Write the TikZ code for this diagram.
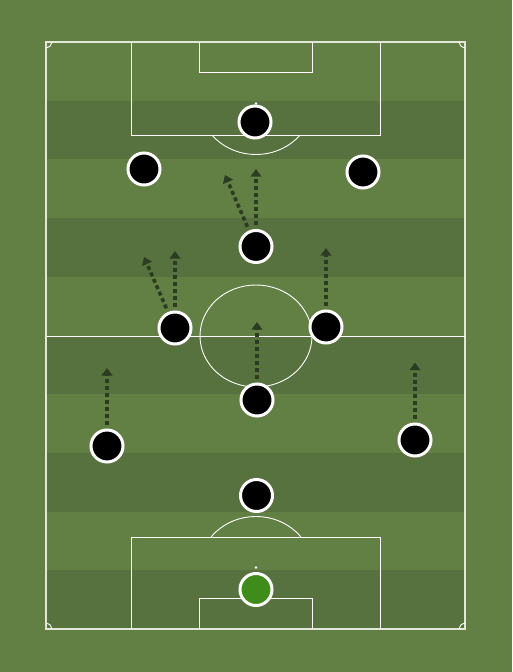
\documentclass[tikz,border=0pt]{standalone}
\usetikzlibrary{arrows.meta}
\definecolor{grassL}{RGB}{99,128,68}
\definecolor{grassD}{RGB}{88,114,63}
\definecolor{runc}{RGB}{44,60,32}
\definecolor{gkc}{RGB}{62,140,26}
\definecolor{linec}{RGB}{225,232,218}
\tikzset{
  pl/.style={circle,draw=white,line width=3pt,fill=black,minimum size=32pt,inner sep=0pt},
  gk/.style={pl,fill=gkc},
  run/.style={draw=runc,line width=3.6pt,dash pattern=on 4pt off 3pt,shorten <=4pt,
    -{Triangle[width=10.5pt,length=7.5pt]}},
  mark1/.style={draw=white,line width=0.9pt},
  outer/.style={draw=linec,line width=1.2pt}
}
\begin{document}
\begin{tikzpicture}[x=1pt,y=-1pt]
\useasboundingbox (0,0) rectangle (512,672);
\fill[grassL] (0,0) rectangle (512,672);
% stripes
\foreach \i in {1,3,5,7,9}{
  \fill[grassD] (46,{42+\i*58.7}) rectangle (465,{42+(\i+1)*58.7});
}
% outer boundary and halfway line
\draw[outer] (46,42) rectangle (465,629);
\draw[mark1] (46,336) -- (465,336);
\draw[mark1] (256,336) ellipse (56 and 51);
\fill[white] (256,336) circle (1.3);
% top penalty area
\draw[mark1] (131.5,42) -- (131.5,135) -- (380.5,135) -- (380.5,42);
\draw[mark1] (199.5,42) -- (199.5,72.7) -- (312.5,72.7) -- (312.5,42);
\fill[white] (256,103.5) circle (1.3);
\begin{scope}
  \clip (0,135.5) rectangle (512,200);
  \draw[mark1] (256,103.5) ellipse (56 and 51);
\end{scope}
% bottom penalty area
\draw[mark1] (131.5,629) -- (131.5,537) -- (380.5,537) -- (380.5,629);
\draw[mark1] (199.5,629) -- (199.5,598.3) -- (312.5,598.3) -- (312.5,629);
\fill[white] (256,567.5) circle (1.3);
\begin{scope}
  \clip (0,470) rectangle (512,536.5);
  \draw[mark1] (256,567.5) ellipse (56 and 51);
\end{scope}
% corner arcs
\draw[mark1] (52,42) arc[start angle=0,end angle=90,x radius=6,y radius=5.6];
\draw[mark1] (459,42) arc[start angle=180,end angle=90,x radius=6,y radius=5.6];
\draw[mark1] (52,629) arc[start angle=0,end angle=-90,x radius=6,y radius=5.6];
\draw[mark1] (459,629) arc[start angle=180,end angle=270,x radius=6,y radius=5.6];
% run targets
\coordinate (t1) at (256,169);
\coordinate (t2) at (225,175);
\coordinate (t3) at (175,251);
\coordinate (t4) at (144,257);
\coordinate (t5) at (326,248);
\coordinate (t6) at (257,322);
\coordinate (t7) at (107,368);
\coordinate (t8) at (415,362.5);
% players
\node[gk] (gk) at (256,589.5) {};
\node[pl] (cb) at (256.5,495.5) {};
\node[pl] (lb) at (107,446) {};
\node[pl] (rb) at (415,440) {};
\node[pl] (dm) at (257,400) {};
\node[pl] (lcm) at (175,328) {};
\node[pl] (rcm) at (326,327) {};
\node[pl] (am) at (256,246.5) {};
\node[pl] (lw) at (144,169) {};
\node[pl] (rw) at (363,172) {};
\node[pl] (st) at (255,122) {};
% runs
\draw[run] (am) -- (t1);
\draw[run] (am) -- (t2);
\draw[run] (lcm) -- (t3);
\draw[run] (lcm) -- (t4);
\draw[run] (rcm) -- (t5);
\draw[run] (dm) -- (t6);
\draw[run] (lb) -- (t7);
\draw[run] (rb) -- (t8);
\end{tikzpicture}
\end{document}
